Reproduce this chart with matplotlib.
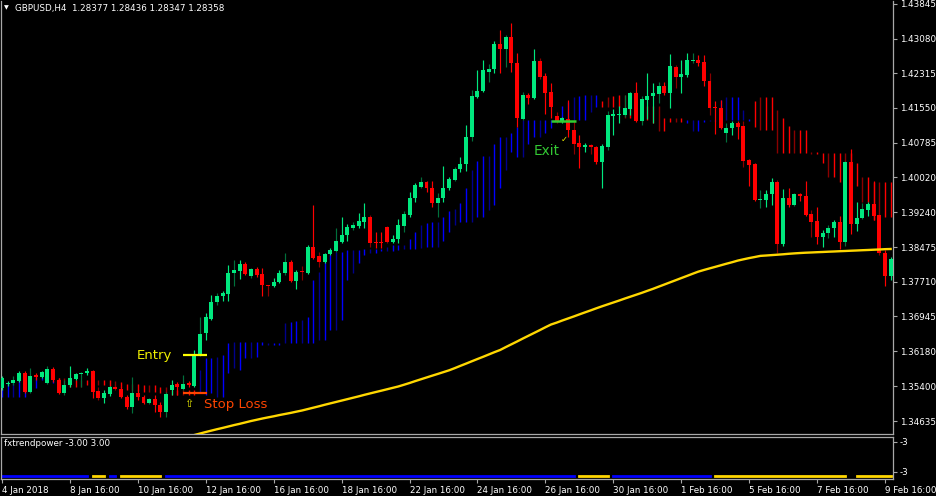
import numpy as np
import matplotlib
matplotlib.use("Agg")
import matplotlib.pyplot as plt

# GBPUSD H4 candles, bar 0 = 4 Jan 2018 00:00
opens = [
    1.3536, 1.3545, 1.3547, 1.3552, 1.3570, 1.3528, 1.3565, 1.3561, 1.3547, 1.3578,
    1.3554, 1.3525, 1.3543, 1.3556, 1.3567, 1.3570, 1.3574, 1.3530, 1.3514, 1.3523,
    1.3539, 1.3534, 1.3516, 1.3494, 1.3525, 1.3516, 1.3503, 1.3512, 1.3499, 1.3483,
    1.3532, 1.3545, 1.3534, 1.3547, 1.3541, 1.3609, 1.3657, 1.3688, 1.3726, 1.3739,
    1.3744, 1.3790, 1.3794, 1.3810, 1.3783, 1.3799, 1.3788, 1.3764, 1.3761, 1.3770,
    1.3790, 1.3814, 1.3772, 1.3792, 1.3790, 1.3847, 1.3828, 1.3814, 1.3832, 1.3839,
    1.3859, 1.3874, 1.3890, 1.3894, 1.3903, 1.3914, 1.3859, 1.3856, 1.3892, 1.3859,
    1.3865, 1.3894, 1.3918, 1.3956, 1.3980, 1.3991, 1.3978, 1.3945, 1.3956, 1.3978,
    1.3995, 1.4020, 1.4031, 1.4091, 1.4179, 1.4192, 1.4234, 1.4241, 1.4296, 1.4285,
    1.4311, 1.4254, 1.4131, 1.4183, 1.4177, 1.4258, 1.4225, 1.4190, 1.4137, 1.4124,
    1.4131, 1.4106, 1.4077, 1.4069, 1.4073, 1.4069, 1.4035, 1.4069, 1.4137, 1.4139,
    1.4139, 1.4153, 1.4188, 1.4126, 1.4172, 1.4181, 1.4186, 1.4203, 1.4188, 1.4245,
    1.4223, 1.4227, 1.4258, 1.4261, 1.4256, 1.4214, 1.4155, 1.4155, 1.4099, 1.4111,
    1.4121, 1.4115, 1.4040, 1.4031, 1.3952, 1.3952, 1.3965, 1.3991, 1.3854, 1.3956,
    1.3940, 1.3965, 1.3960, 1.3920, 1.3905, 1.3870, 1.3878, 1.3890, 1.3903, 1.3859,
    1.4035, 1.3898, 1.3912, 1.3929, 1.3943, 1.3918, 1.3834, 1.3784,
]
highs = [
    1.3563, 1.3552, 1.3563, 1.3574, 1.3574, 1.3581, 1.3570, 1.3574, 1.3585, 1.3583,
    1.3559, 1.3554, 1.3585, 1.3570, 1.3572, 1.3581, 1.3576, 1.3539, 1.3532, 1.3541,
    1.3543, 1.3539, 1.3521, 1.3561, 1.3532, 1.3521, 1.3514, 1.3521, 1.3505, 1.3527,
    1.3554, 1.3550, 1.3565, 1.3552, 1.3620, 1.3693, 1.3701, 1.3741, 1.3746, 1.3750,
    1.3808, 1.3819, 1.3819, 1.3815, 1.3801, 1.3803, 1.3801, 1.3764, 1.3779, 1.3797,
    1.3834, 1.3819, 1.3797, 1.3805, 1.3852, 1.3940, 1.3837, 1.3834, 1.3845, 1.3890,
    1.3914, 1.3898, 1.3903, 1.3923, 1.3945, 1.3918, 1.3881, 1.3881, 1.3894, 1.3874,
    1.3909, 1.3927, 1.3969, 1.3989, 1.4002, 1.3993, 1.3993, 1.3967, 1.4026, 1.4002,
    1.4024, 1.4046, 1.4117, 1.4195, 1.4238, 1.4260, 1.4252, 1.4302, 1.4327, 1.4316,
    1.4342, 1.4276, 1.4190, 1.4188, 1.4285, 1.4265, 1.4232, 1.4210, 1.4146, 1.4135,
    1.4172, 1.4128, 1.4095, 1.4077, 1.4075, 1.4071, 1.4075, 1.4148, 1.4153, 1.4159,
    1.4183, 1.4190, 1.4212, 1.4181, 1.4232, 1.4210, 1.4212, 1.4212, 1.4274, 1.4250,
    1.4261, 1.4276, 1.4276, 1.4272, 1.4272, 1.4232, 1.4170, 1.4172, 1.4121, 1.4126,
    1.4126, 1.4126, 1.4042, 1.4033, 1.3974, 1.3974, 1.4000, 1.3996, 1.3976, 1.3978,
    1.3967, 1.3967, 1.3993, 1.3929, 1.3936, 1.3885, 1.3896, 1.3907, 1.3916, 1.4038,
    1.4064, 1.3947, 1.3945, 1.3947, 1.3993, 1.3923, 1.3841, 1.3825,
]
lows = [
    1.3532, 1.3541, 1.3543, 1.3550, 1.3525, 1.3525, 1.3554, 1.3559, 1.3545, 1.3550,
    1.3523, 1.3521, 1.3539, 1.3554, 1.3539, 1.3565, 1.3514, 1.3510, 1.3503, 1.3519,
    1.3532, 1.3514, 1.3490, 1.3481, 1.3510, 1.3501, 1.3501, 1.3483, 1.3472, 1.3472,
    1.3521, 1.3521, 1.3532, 1.3539, 1.3539, 1.3607, 1.3642, 1.3686, 1.3719, 1.3728,
    1.3728, 1.3761, 1.3777, 1.3786, 1.3779, 1.3781, 1.3739, 1.3739, 1.3759, 1.3768,
    1.3786, 1.3770, 1.3755, 1.3775, 1.3788, 1.3821, 1.3803, 1.3812, 1.3830, 1.3837,
    1.3856, 1.3861, 1.3885, 1.3890, 1.3890, 1.3848, 1.3845, 1.3845, 1.3856, 1.3856,
    1.3856, 1.3881, 1.3914, 1.3947, 1.3978, 1.3969, 1.3936, 1.3914, 1.3947, 1.3973,
    1.3993, 1.4013, 1.4015, 1.4082, 1.4177, 1.4190, 1.4212, 1.4232, 1.4232, 1.4245,
    1.4234, 1.4113, 1.4128, 1.4164, 1.4175, 1.4219, 1.4141, 1.4133, 1.4122, 1.4122,
    1.4091, 1.4053, 1.4022, 1.4058, 1.4053, 1.4031, 1.3978, 1.4062, 1.4095, 1.4122,
    1.4135, 1.4139, 1.4124, 1.4117, 1.4131, 1.4122, 1.4166, 1.4183, 1.4155, 1.4199,
    1.4188, 1.4223, 1.4254, 1.4247, 1.4203, 1.4139, 1.4097, 1.4108, 1.4079, 1.4095,
    1.4086, 1.4024, 1.3982, 1.3949, 1.3934, 1.3936, 1.3940, 1.3834, 1.3850, 1.3936,
    1.3938, 1.3949, 1.3916, 1.3870, 1.3854, 1.3848, 1.3867, 1.3870, 1.3843, 1.3850,
    1.3876, 1.3883, 1.3910, 1.3916, 1.3907, 1.3830, 1.3761, 1.3775,
]
closes = [
    1.3559, 1.3547, 1.3554, 1.3570, 1.3528, 1.3563, 1.3561, 1.3572, 1.3578, 1.3554,
    1.3525, 1.3543, 1.3559, 1.3567, 1.3570, 1.3574, 1.3528, 1.3514, 1.3525, 1.3539,
    1.3534, 1.3516, 1.3494, 1.3525, 1.3516, 1.3503, 1.3512, 1.3499, 1.3483, 1.3523,
    1.3543, 1.3539, 1.3545, 1.3543, 1.3609, 1.3655, 1.3693, 1.3726, 1.3739, 1.3746,
    1.3790, 1.3797, 1.3810, 1.3788, 1.3799, 1.3786, 1.3764, 1.3761, 1.3770, 1.3790,
    1.3814, 1.3772, 1.3792, 1.3790, 1.3847, 1.3823, 1.3814, 1.3832, 1.3841, 1.3861,
    1.3874, 1.3892, 1.3896, 1.3905, 1.3914, 1.3856, 1.3856, 1.3854, 1.3859, 1.3865,
    1.3896, 1.3920, 1.3956, 1.3985, 1.3991, 1.3978, 1.3945, 1.3956, 1.3978, 1.3998,
    1.4020, 1.4031, 1.4091, 1.4181, 1.4192, 1.4238, 1.4241, 1.4296, 1.4285, 1.4311,
    1.4254, 1.4133, 1.4183, 1.4177, 1.4258, 1.4223, 1.4188, 1.4157, 1.4126, 1.4133,
    1.4106, 1.4075, 1.4069, 1.4073, 1.4069, 1.4035, 1.4071, 1.4139, 1.4141, 1.4141,
    1.4155, 1.4188, 1.4126, 1.4175, 1.4181, 1.4188, 1.4203, 1.4188, 1.4247, 1.4223,
    1.4230, 1.4261, 1.4261, 1.4254, 1.4214, 1.4155, 1.4153, 1.4111, 1.4111, 1.4121,
    1.4113, 1.4038, 1.4029, 1.3952, 1.3954, 1.3965, 1.3991, 1.3854, 1.3956, 1.3940,
    1.3965, 1.3960, 1.3918, 1.3903, 1.3870, 1.3878, 1.3890, 1.3903, 1.3859, 1.4035,
    1.3898, 1.3912, 1.3932, 1.3943, 1.3916, 1.3834, 1.3784, 1.3821,
]

# trend band indicator drawn as vertical lines (top / bottom of each line)
band_hi = [
    1.3536, 1.3547, 1.3547, 1.3554, 1.3554, 1.3554, 1.3561, 1.3561, 1.3561, 1.3554,
    1.3559, 1.3559, 1.3559, 1.3554, 1.3554, 1.3554, 1.3554, 1.3554, 1.3554, 1.3554,
    1.3552, 1.3550, 1.3545, 1.3545, 1.3545, 1.3543, 1.3543, 1.3543, 1.3539, 1.3539,
    1.3532, 1.3532, 1.3532, 1.3532, 1.3532, 1.3576, 1.3603, 1.3603, 1.3605, 1.3609,
    1.3636, 1.3638, 1.3638, 1.3638, 1.3638, 1.3638, 1.3638, 1.3636, 1.3636, 1.3636,
    1.3680, 1.3682, 1.3685, 1.3687, 1.3693, 1.3775, 1.3792, 1.3814, 1.3830, 1.3837,
    1.3837, 1.3841, 1.3841, 1.3841, 1.3843, 1.3843, 1.3843, 1.3843, 1.3848, 1.3852,
    1.3852, 1.3852, 1.3865, 1.3881, 1.3896, 1.3900, 1.3903, 1.3903, 1.3914, 1.3927,
    1.3932, 1.3945, 1.3978, 1.4018, 1.4038, 1.4049, 1.4049, 1.4075, 1.4091, 1.4091,
    1.4099, 1.4113, 1.4128, 1.4128, 1.4128, 1.4128, 1.4128, 1.4128, 1.4133, 1.4159,
    1.4168, 1.4179, 1.4181, 1.4183, 1.4183, 1.4183, 1.4170, 1.4179, 1.4181, 1.4183,
    1.4183, 1.4183, 1.4190, 1.4161, 1.4159, 1.4159, 1.4159, 1.4133, 1.4133, 1.4133,
    1.4133, 1.4128, 1.4128, 1.4128, 1.4128, 1.4128, 1.4128, 1.4172, 1.4179, 1.4179,
    1.4179, 1.4150, 1.4130, 1.4170, 1.4179, 1.4179, 1.4179, 1.4150, 1.4133, 1.4115,
    1.4106, 1.4106, 1.4106, 1.4058, 1.4058, 1.4055, 1.4055, 1.4055, 1.4055, 1.4055,
    1.4055, 1.4033, 1.4002, 1.4002, 1.3991, 1.3991, 1.3991, 1.3991,
]
band_lo = [
    1.3516, 1.3516, 1.3516, 1.3516, 1.3516, 1.3527, 1.3536, 1.3554, 1.3547, 1.3547,
    1.3539, 1.3539, 1.3539, 1.3539, 1.3539, 1.3543, 1.3543, 1.3543, 1.3543, 1.3541,
    1.3539, 1.3536, 1.3532, 1.3532, 1.3530, 1.3527, 1.3527, 1.3527, 1.3525, 1.3525,
    1.3521, 1.3521, 1.3521, 1.3521, 1.3521, 1.3525, 1.3521, 1.3525, 1.3516, 1.3516,
    1.3570, 1.3581, 1.3576, 1.3603, 1.3603, 1.3605, 1.3631, 1.3631, 1.3631, 1.3631,
    1.3636, 1.3636, 1.3636, 1.3636, 1.3636, 1.3636, 1.3642, 1.3642, 1.3665, 1.3665,
    1.3687, 1.3775, 1.3790, 1.3812, 1.3830, 1.3834, 1.3834, 1.3839, 1.3839, 1.3839,
    1.3841, 1.3843, 1.3843, 1.3843, 1.3845, 1.3848, 1.3848, 1.3848, 1.3861, 1.3881,
    1.3896, 1.3903, 1.3903, 1.3903, 1.3914, 1.3914, 1.3930, 1.3941, 1.3978, 1.4018,
    1.4058, 1.4047, 1.4047, 1.4075, 1.4091, 1.4091, 1.4099, 1.4111, 1.4126, 1.4128,
    1.4128, 1.4128, 1.4128, 1.4128, 1.4146, 1.4157, 1.4157, 1.4157, 1.4157, 1.4157,
    1.4133, 1.4133, 1.4128, 1.4124, 1.4128, 1.4121, 1.4104, 1.4104, 1.4124, 1.4124,
    1.4124, 1.4121, 1.4104, 1.4104, 1.4124, 1.4126, 1.4126, 1.4128, 1.4128, 1.4128,
    1.4128, 1.4128, 1.4126, 1.4113, 1.4106, 1.4106, 1.4106, 1.4055, 1.4055, 1.4055,
    1.4055, 1.4055, 1.4055, 1.4053, 1.4053, 1.4033, 1.4002, 1.4002, 1.3991, 1.3991,
    1.3996, 1.3982, 1.3947, 1.3947, 1.3907, 1.3841, 1.3914, 1.3914,
]
# (direction, number of bars): 1 = blue (up), 0 = red (down)
band_runs = [(1, 10), (0, 25), (1, 71), (0, 15), (1, 12), (0, 25)]

# slow moving average, visible from bar 34 onwards
ma_start = 34
ma_vals = [
    1.34326, 1.34359, 1.34392, 1.34423, 1.34454, 1.34483, 1.34514, 1.34545, 1.34573, 1.34604,
    1.34635, 1.34662, 1.34690, 1.34715, 1.34739, 1.34766, 1.34790, 1.34814, 1.34841, 1.34867,
    1.34898, 1.34929, 1.34960, 1.34993, 1.35024, 1.35055, 1.35086, 1.35117, 1.35148, 1.35179,
    1.35212, 1.35243, 1.35274, 1.35304, 1.35335, 1.35366, 1.35397, 1.35435, 1.35474, 1.35516,
    1.35556, 1.35596, 1.35636, 1.35675, 1.35715, 1.35755, 1.35803, 1.35854, 1.35903, 1.35954,
    1.36004, 1.36053, 1.36104, 1.36155, 1.36203, 1.36267, 1.36329, 1.36391, 1.36455, 1.36517,
    1.36579, 1.36641, 1.36705, 1.36766, 1.36808, 1.36855, 1.36899, 1.36943, 1.36989, 1.37034,
    1.37078, 1.37124, 1.37168, 1.37210, 1.37252, 1.37294, 1.37338, 1.37380, 1.37422, 1.37464,
    1.37509, 1.37553, 1.37601, 1.37648, 1.37696, 1.37743, 1.37791, 1.37838, 1.37886, 1.37933,
    1.37970, 1.38005, 1.38039, 1.38074, 1.38109, 1.38142, 1.38178, 1.38206, 1.38233, 1.38257,
    1.38282, 1.38290, 1.38299, 1.38308, 1.38317, 1.38328, 1.38337, 1.38345, 1.38352, 1.38357,
    1.38363, 1.38368, 1.38374, 1.38379, 1.38385, 1.38390, 1.38396, 1.38401, 1.38407, 1.38412,
    1.38418, 1.38423, 1.38430, 1.38434,
]

# fxtrendpower sub-window: (state, number of bars), 1 = blue, -1 = yellow
trend_runs = [(1, 16), (-1, 3), (1, 2), (-1, 8), (1, 73), (-1, 6), (1, 18), (-1, 24), (1, 1), (-1, 7)]
trend_level = -3.0

price_ticks = [1.43845, 1.43080, 1.42315, 1.41550, 1.40785, 1.40020, 1.39240,
               1.38475, 1.37710, 1.36945, 1.36180, 1.35400, 1.34635]
time_labels = ["4 Jan 2018", "8 Jan 16:00", "10 Jan 16:00", "12 Jan 16:00", "16 Jan 16:00",
               "18 Jan 16:00", "22 Jan 16:00", "24 Jan 16:00", "26 Jan 16:00", "30 Jan 16:00",
               "1 Feb 16:00", "5 Feb 16:00", "7 Feb 16:00", "9 Feb 16:00"]
label_step = 12

entry_price = 1.3609
stop_price = 1.3525
exit_price = 1.4126
trade_bars = (32.0, 36.2)
exit_bars = (97.0, 101.4)


def expand(runs):
    out = []
    for val, count in runs:
        out += [val] * count
    return np.array(out)


W, H = 936, 496
BULL, BULL_DIM = "#00E87E", "#00703C"
BEAR, BEAR_DIM = "#FF0000", "#8A0000"
FRAME = "#A8A8A8"
FS = 6.3

o, hi, lo, c = (np.array(v) for v in (opens, highs, lows, closes))
n = len(c)
x = np.arange(n)
dim = (x % 3 == 2)  # every third bar looks dimmer on the original screenshot
bull = c >= o

plt.rcParams["font.family"] = ["DejaVu Sans"]
fig = plt.figure(figsize=(W / 100, H / 100), dpi=100, facecolor="black")
ax = fig.add_axes([1 / W, 62 / H, 892 / W, 433 / H], facecolor="black")
sub = fig.add_axes([1 / W, 17 / H, 892 / W, 42 / H], facecolor="black")

# trend band lines
up = expand(band_runs) == 1
band_cols = np.where(up, np.where(dim, "#00008C", "#0000FF"), np.where(dim, BEAR_DIM, BEAR))
ax.vlines(x, band_lo, band_hi, colors=band_cols, lw=1.0, zorder=1)

# candles
wick_cols = np.where(bull, np.where(dim, BULL_DIM, BULL), np.where(dim, BEAR_DIM, BEAR))
ax.vlines(x, lo, hi, colors=wick_cols, lw=0.85, zorder=2)
body = c - o
body = np.where(np.abs(body) < 0.00022, 0.00022, body)
ax.bar(x, body, bottom=o, width=0.7, color=np.where(bull, BULL, BEAR), lw=0, zorder=3)

# moving average
ax.plot(np.arange(ma_start, n), ma_vals, color="#FFD700", lw=1.7, zorder=4)

# trade marks
ax.hlines(entry_price, *trade_bars, color="#FFFF00", lw=1.6, zorder=5)
ax.hlines(stop_price, *trade_bars, color="#FF4500", lw=1.6, zorder=5)
ax.hlines(exit_price, *exit_bars, color="#32CD32", lw=1.8, zorder=5)
ax.text(30.0, entry_price, "Entry", color="#F0F000", fontsize=9.5, ha="right", va="center")
ax.text(33.0, stop_price - 0.0024, "\u21e7", color="#E8E800", fontsize=8, ha="center", va="center")
ax.text(35.7, stop_price - 0.0024, "Stop Loss", color="#FF4500", fontsize=9.5, ha="left", va="center")
ax.text(94.0, exit_price - 0.0066, "Exit", color="#33C733", fontsize=9.8, ha="left", va="center")
ax.text(99.3, exit_price - 0.0040, "\u2713", color="#E6E600", fontsize=6, ha="center", va="center")

xmin = -1 / 5.66
ax.set_xlim(xmin, xmin + 892 / 5.66)
ax.set_ylim(1.34348, 1.43911)
ax.set_xticks([])
ax.yaxis.tick_right()
ax.set_yticks(price_ticks)
ax.set_yticklabels([f"{p:.5f}" for p in price_ticks])
ax.tick_params(axis="y", color=FRAME, labelcolor="white", labelsize=FS, length=3, width=0.8, pad=2)
for side, sp in ax.spines.items():
    sp.set_color(FRAME)
    sp.set_linewidth(0.9)
ax.spines["top"].set_visible(False)

# indicator window
state = expand(trend_runs)
sub.plot(x, np.where(state == 1, trend_level, np.nan), color="#0000FF", lw=2)
sub.plot(x, np.where(state == -1, trend_level, np.nan), color="#FFD700", lw=2)
sub.set_xlim(ax.get_xlim())
sub.set_ylim(trend_level - 0.071, trend_level + 0.929)
sub.yaxis.tick_right()
sub.set_yticks([trend_level + 0.096, trend_level + 0.81])
sub.set_yticklabels(["-3", "-3"])
tick_pos = np.arange(0, n, label_step)[:len(time_labels)]
sub.set_xticks(tick_pos)
sub.set_xticklabels(time_labels)
for lbl in sub.get_xticklabels():
    lbl.set_ha("left")
sub.tick_params(color=FRAME, labelcolor="white", labelsize=FS, length=3, width=0.8, pad=2)
for sp in sub.spines.values():
    sp.set_color(FRAME)
    sp.set_linewidth(0.9)

fig.text(4 / W, 1 - 8 / H, "\u25bc", color="white", fontsize=4.5, va="center")
fig.text(15 / W, 1 - 8 / H, "GBPUSD,H4  1.28377 1.28436 1.28347 1.28358",
         color="white", fontsize=FS, va="center")
fig.text(4 / W, 1 - 443 / H, "fxtrendpower -3.00 3.00", color="white", fontsize=FS, va="center")

fig.savefig("out.png", dpi=100, facecolor="black")
